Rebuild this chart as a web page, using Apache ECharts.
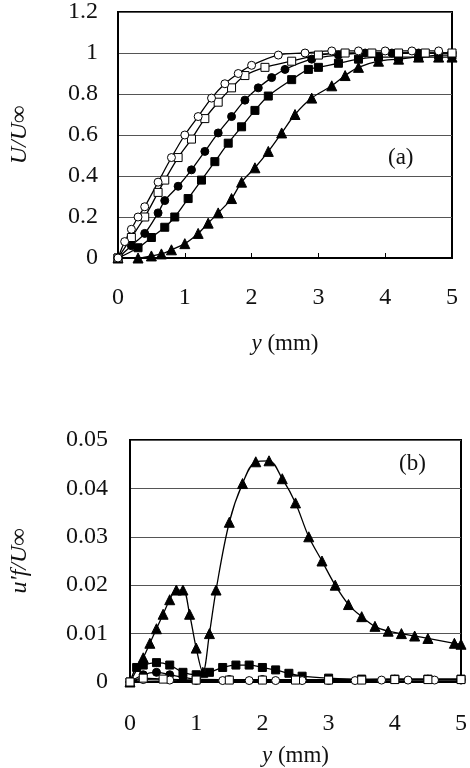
<!DOCTYPE html><html><head><meta charset="utf-8"><script src="https://cdn.jsdelivr.net/npm/echarts@6/dist/echarts.min.js"></script>
<style>body{margin:0;background:#fff}#c{width:470px;height:768px}</style></head><body><div id="c"></div><script>
const a_openCircle=[[0,0],[0.1,0.08],[0.2,0.14],[0.3,0.2],[0.4,0.25],[0.6,0.37],[0.8,0.49],[1.0,0.6],[1.2,0.69],[1.4,0.78],[1.6,0.85],[1.8,0.9],[2.0,0.94],[2.4,0.99],[2.8,1.0],[3.2,1.01],[3.6,1.01],[4.0,1.01],[4.4,1.01],[4.8,1.01]];
const a_openSquare=[[0,0],[0.2,0.1],[0.4,0.2],[0.6,0.32],[0.7,0.38],[0.9,0.49],[1.1,0.58],[1.3,0.68],[1.5,0.76],[1.7,0.83],[1.9,0.89],[2.2,0.93],[2.6,0.96],[3.0,0.99],[3.4,1.0],[3.8,1.0],[4.2,1.0],[4.6,1.0],[5.0,1.0]];
const a_fillCircle=[[0,0],[0.2,0.06],[0.4,0.12],[0.6,0.22],[0.7,0.28],[0.9,0.35],[1.1,0.43],[1.3,0.52],[1.5,0.61],[1.7,0.69],[1.9,0.77],[2.1,0.83],[2.3,0.88],[2.5,0.92],[2.9,0.97],[3.3,0.99],[3.7,1.0],[4.1,1.0],[4.5,1.0],[5.0,1.0]];
const a_fillSquare=[[0,0],[0.3,0.05],[0.5,0.1],[0.7,0.15],[0.85,0.2],[1.05,0.29],[1.25,0.38],[1.45,0.47],[1.65,0.56],[1.85,0.64],[2.05,0.72],[2.25,0.79],[2.6,0.87],[2.85,0.92],[3.0,0.93],[3.3,0.95],[3.6,0.97],[3.9,0.98],[4.2,0.98],[4.5,0.98],[4.8,0.99],[5.0,0.99]];
const a_fillTri=[[0,0],[0.3,0.0],[0.5,0.01],[0.65,0.02],[0.8,0.04],[1.0,0.07],[1.2,0.12],[1.35,0.17],[1.5,0.22],[1.7,0.29],[1.85,0.37],[2.05,0.44],[2.25,0.52],[2.45,0.61],[2.65,0.7],[2.9,0.78],[3.2,0.84],[3.4,0.89],[3.6,0.93],[3.9,0.96],[4.2,0.97],[4.5,0.98],[4.8,0.98],[5.0,0.98]];
const b_fillTri=[[0,0],[0.2,0.005],[0.3,0.008],[0.4,0.011],[0.5,0.014],[0.6,0.017],[0.7,0.019],[0.8,0.019],[0.9,0.014],[1.0,0.007],[1.1,0.002],[1.2,0.01],[1.3,0.019],[1.5,0.033],[1.7,0.041],[1.9,0.0455],[2.1,0.0457],[2.3,0.042],[2.5,0.037],[2.7,0.030],[2.9,0.025],[3.1,0.020],[3.3,0.016],[3.5,0.0135],[3.7,0.0115],[3.9,0.0105],[4.1,0.010],[4.3,0.0095],[4.5,0.009],[4.9,0.008],[5.0,0.0078]];
const b_fillSquare=[[0,0],[0.1,0.003],[0.2,0.0035],[0.4,0.004],[0.6,0.0035],[0.8,0.002],[1.0,0.0015],[1.2,0.002],[1.4,0.003],[1.6,0.0035],[1.8,0.0035],[2.0,0.003],[2.2,0.0025],[2.4,0.0018],[2.6,0.0012],[3.0,0.0008],[3.5,0.0006],[4.0,0.0006],[4.5,0.0006],[5.0,0.0006]];
const b_fillCircle=[[0,0],[0.2,0.0015],[0.4,0.002],[0.6,0.0015],[0.8,0.001],[1.0,0.0006],[1.5,0.0005],[2.0,0.0005],[2.5,0.0005],[3.0,0.0005],[3.5,0.0005],[4.0,0.0006],[4.5,0.0006],[5.0,0.0006]];
const b_openSquare=[[0,0],[0.2,0.0008],[0.5,0.0006],[1.0,0.0004],[1.5,0.0004],[2.0,0.0004],[2.5,0.0004],[3.0,0.0004],[3.5,0.0004],[4.0,0.0005],[4.5,0.0005],[5.0,0.0005]];
const b_openCircle=[[0,0],[0.2,0.0005],[0.6,0.0004],[1.0,0.0003],[1.4,0.0003],[1.8,0.0003],[2.2,0.0003],[2.6,0.0003],[3.0,0.0003],[3.4,0.0003],[3.8,0.0004],[4.2,0.0004],[4.6,0.0004],[5.0,0.0004]];
const xTicks=[0,1,2,3,4,5];
const F='Liberation Serif';
const tri='path://M0,10L5,0L10,10Z';
function S(data,sym,filled,ax){return {type:'line',data,smooth:0.35,xAxisIndex:ax,yAxisIndex:ax,symbol:sym,symbolSize:sym===tri?10:8,showSymbol:true,clip:false,
 lineStyle:{color:'#000',width:1.3},itemStyle:{color:filled?'#000':'#fff',borderColor:'#000',borderWidth:1},z:filled?3:4};}
const ax=(i)=>({gridIndex:i,type:'value',min:0,max:5,interval:1,axisLine:{lineStyle:{color:'#000',width:2}},axisTick:{inside:true,length:5,lineStyle:{color:'#000'}},splitLine:{show:false},axisLabel:{color:'#111',fontFamily:F,fontSize:24,margin:i?30:28,formatter:v=>xTicks.includes(v)?String(v):''},
 name:'{i|y} (mm)',nameLocation:'middle',nameGap:i?62:74,nameTextStyle:{color:'#111',fontFamily:F,fontSize:23,rich:{i:{fontStyle:'italic',fontFamily:F,fontSize:23,color:'#111'}}}});
const opt={animation:false,
grid:[{left:93,top:10,width:359,height:248,show:true,borderColor:'#000',borderWidth:2},{left:108,top:440,width:355,height:248,show:true,borderColor:'#000',borderWidth:2}],
xAxis:[ax(0),ax(1)],
yAxis:[{gridIndex:0,type:'value',min:0,max:1.2,interval:0.2,axisLine:{show:true,lineStyle:{color:'#000',width:2}},axisTick:{show:false},splitLine:{lineStyle:{color:'#555',width:1}},axisLabel:{color:'#111',fontFamily:F,fontSize:24,margin:20,formatter:v=>String(+v.toFixed(1))},
 name:'U/U∞',nameLocation:'middle',nameGap:86,nameTextStyle:{color:'#111',fontFamily:F,fontSize:24,fontStyle:'italic'}},
 {gridIndex:1,type:'value',min:0,max:0.05,interval:0.01,axisLine:{show:true,lineStyle:{color:'#000',width:2}},axisTick:{show:false},splitLine:{lineStyle:{color:'#555',width:1}},axisLabel:{color:'#111',fontFamily:F,fontSize:24,margin:22,formatter:v=>String(+v.toFixed(2))},
 name:"u'f/U∞",nameLocation:'middle',nameGap:98,nameTextStyle:{color:'#111',fontFamily:F,fontSize:24,fontStyle:'italic'}}],
graphic:[{type:'text',left:388,top:146,style:{text:'(a)',font:'23px "Liberation Serif"',fill:'#111'}},{type:'text',left:399,top:452,style:{text:'(b)',font:'23px "Liberation Serif"',fill:'#111'}}],
series:[S(a_fillTri,tri,true,0),S(a_fillSquare,'rect',true,0),S(a_fillCircle,'circle',true,0),S(a_openSquare,'rect',false,0),S(a_openCircle,'circle',false,0),
S(b_openCircle,'circle',false,1),S(b_openSquare,'rect',false,1),S(b_fillCircle,'circle',true,1),S(b_fillSquare,'rect',true,1),S(b_fillTri,tri,true,1)]};
echarts.init(document.getElementById('c')).setOption(opt);
</script></body></html>
